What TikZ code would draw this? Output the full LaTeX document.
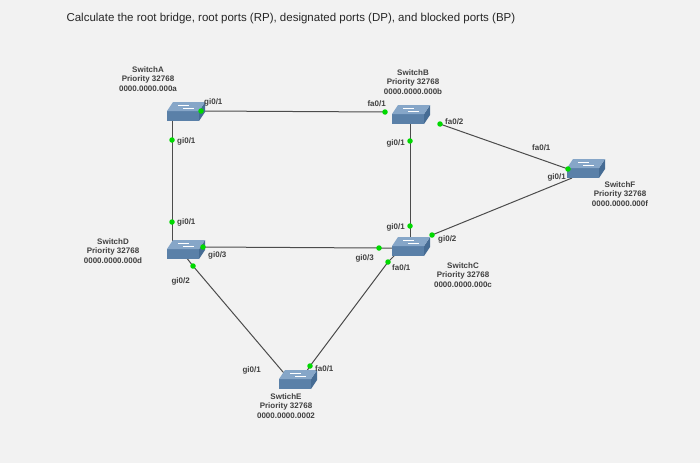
\documentclass[tikz,border=0pt]{standalone}
\usepackage{fontspec}
\setmainfont{Liberation Sans}
\definecolor{swtop}{HTML}{86A6C8}
\definecolor{swfront}{HTML}{5A80A8}
\definecolor{swside}{HTML}{466C94}
\begin{document}
\begin{tikzpicture}[x=1pt,y=-1pt,
  sw/.style={draw=none,fill=none,minimum width=38pt,minimum height=20pt,inner sep=0pt},
  lbl/.style={font=\fontsize{8}{9.5}\selectfont\bfseries,text=black!75,align=center,inner sep=0pt},
  prt/.style={font=\fontsize{8}{9.5}\selectfont\bfseries,text=black!75,inner sep=1pt},
  dot/.style={circle,fill=green!85!black,inner sep=0pt,minimum size=5.5pt},
  lnk/.style={draw=black!70,line width=1pt}]
\fill[black!5] (0,0) rectangle (700,463);
\useasboundingbox (0,0) rectangle (700,463);
\node[anchor=west,font=\fontsize{11.5}{13}\selectfont,text=black!85] (t) at (63,19) {Calculate the root bridge, root ports (RP), designated ports (DP), and blocked ports (BP)};
\node[sw] (A) at (186,111) {};
\node[sw] (B) at (411,114) {};
\node[sw] (F) at (586,168) {};
\node[sw] (D) at (186,249) {};
\node[sw] (C) at (411,246) {};
\node[sw] (E) at (298,379) {};
\coordinate (a1) at (201,111); \coordinate (b1) at (385,112);
\coordinate (a2) at (172,140); \coordinate (d1) at (172,222);
\coordinate (b2) at (410,141); \coordinate (c1) at (410,226);
\coordinate (b3) at (440,124); \coordinate (f1) at (568,169);
\coordinate (d3) at (203,247); \coordinate (c3) at (379,248);
\coordinate (d2) at (193,266); \coordinate (e1) at (283,372);
\coordinate (c2) at (432,235); \coordinate (f2) at (572,178);
\coordinate (cf) at (388,262); \coordinate (e2) at (310,366);
\draw[lnk] (a1) -- (b1);
\draw[lnk] (172,118) -- (172,242);
\draw[lnk] (410,120) -- (410,240);
\draw[lnk] (b3) -- (f1);
\draw[lnk] (d3) -- (c3) -- (395,248);
\draw[lnk] (182,252) -- (d2) -- (e1) -- (290,378);
\draw[lnk] (400,250) -- (cf) -- (e2) -- (305,374);
\draw[lnk] (c2) -- (f2);
\foreach \s in {A,B,F,D,C,E}{
 \begin{scope}[shift={(\s)}]
  \fill[swfront] (-19,0) -- (13,0) -- (13,10) -- (-19,10) -- cycle;
  \fill[swside] (13,0) -- (19,-9) -- (19,1) -- (13,10) -- cycle;
  \fill[swtop] (-19,0) -- (-13,-9) -- (19,-9) -- (13,0) -- cycle;
  \draw[white,line width=0.7pt] (-8,-6) -- (3,-6) (-3,-3) -- (8,-3);
 \end{scope}
}
\foreach \p in {a1,b1,a2,d1,b2,c1,b3,f1,d3,c3,d2,c2,cf,e2}{\node[dot] at (\p) {};}
\node[lbl] (lA) at (148,79) {SwitchA\\Priority 32768\\0000.0000.000a};
\node[lbl] (lB) at (413,82) {SwitchB\\Priority 32768\\0000.0000.000b};
\node[lbl] (lF) at (620,194) {SwitchF\\Priority 32768\\0000.0000.000f};
\node[lbl] (lD) at (113,251) {SwitchD\\Priority 32768\\0000.0000.000d};
\node[lbl] (lC) at (463,275) {SwitchC\\Priority 32768\\0000.0000.000c};
\node[lbl] (lE) at (286,406) {SwtichE\\Priority 32768\\0000.0000.0002};
\node[prt,anchor=west] (pa1) at (203,102) {gi0/1};
\node[prt,anchor=west] (pa2) at (176,141) {gi0/1};
\node[prt,anchor=east] (pb1) at (387,104) {fa0/1};
\node[prt,anchor=west] (pb3) at (444,122) {fa0/2};
\node[prt,anchor=east] (pb2) at (406,143) {gi0/1};
\node[prt,anchor=west] (pf1) at (531,148) {fa0/1};
\node[prt,anchor=east] (pf2) at (567,177) {gi0/1};
\node[prt,anchor=west] (pd1) at (176,222) {gi0/1};
\node[prt,anchor=east] (pc1) at (406,227) {gi0/1};
\node[prt,anchor=west] (pc2) at (437,239) {gi0/2};
\node[prt,anchor=west] (pd3) at (207,255) {gi0/3};
\node[prt,anchor=east] (pc3) at (375,258) {gi0/3};
\node[prt,anchor=west] (pcf) at (391,268) {fa0/1};
\node[prt,anchor=east] (pd2) at (191,281) {gi0/2};
\node[prt,anchor=east] (pe1) at (262,370) {gi0/1};
\node[prt,anchor=west] (pe2) at (314,369) {fa0/1};
\end{tikzpicture}
\end{document}
